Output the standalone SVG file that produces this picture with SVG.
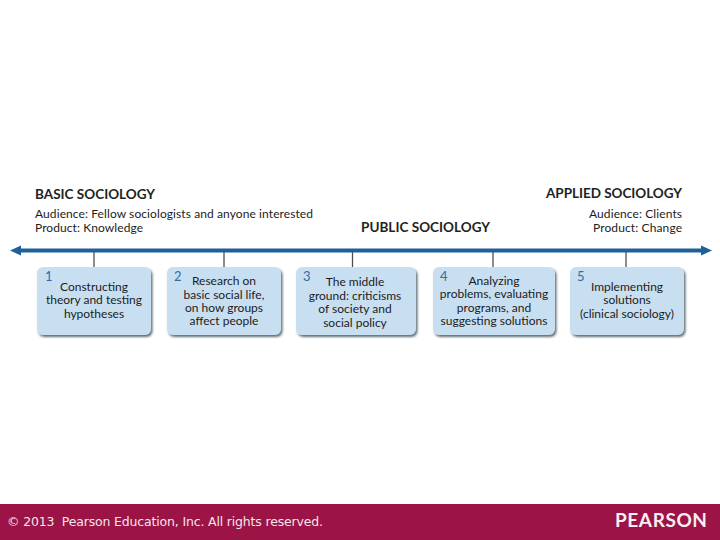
<svg xmlns="http://www.w3.org/2000/svg" width="720" height="540" viewBox="0 0 720 540">
<style>
text{font-family:"Lato","Open Sans",sans-serif;fill:#1c1c1c}
.h{font-size:13.5px;font-weight:700;fill:#222}
.s{font-size:12px}
.b{font-size:12px;text-anchor:middle}
.n{font-size:13px;fill:#2f6da3}
.box{fill:#c8dff1;filter:url(#sh)}
.tick{stroke:#4a4f55;stroke-width:1.3}
</style>
<defs>
<filter id="sh" x="-10%" y="-10%" width="125%" height="130%"><feDropShadow dx="1.5" dy="2" stdDeviation="1.3" flood-color="#4a545e" flood-opacity="0.85"/></filter>
<marker id="ah" markerUnits="userSpaceOnUse" markerWidth="12" markerHeight="12" refX="0" refY="6" orient="auto-start-reverse"><path d="M0 1L11 6L0 11Z" fill="#1f6098"/></marker>
</defs>
<rect width="720" height="540" fill="#fff"/>
<g id="connectors">
<line x1="21" y1="250.500" x2="701" y2="250.500" stroke="#1f6098" stroke-width="4" marker-start="url(#ah)" marker-end="url(#ah)"/>
<line class="tick" x1="94" y1="252" x2="94" y2="268"/>
<line class="tick" x1="224" y1="252" x2="224" y2="268"/>
<line class="tick" x1="352.500" y1="252" x2="352.500" y2="268"/>
<line class="tick" x1="493" y1="252" x2="493" y2="268"/>
<line class="tick" x1="626" y1="252" x2="626" y2="268"/>
</g>
<g id="basic"><text class="h" x="35" y="199" textLength="120">BASIC SOCIOLOGY</text>
<text class="s" x="35" y="218" textLength="278">Audience: Fellow sociologists and anyone interested</text>
<text class="s" x="35" y="232" textLength="108">Product: Knowledge</text></g>
<g id="public"><text class="h" x="361" y="232" textLength="129">PUBLIC SOCIOLOGY</text></g>
<g id="applied"><text class="h" x="546" y="198" textLength="136">APPLIED SOCIOLOGY</text>
<text class="s" x="682" y="218" text-anchor="end" textLength="93">Audience: Clients</text>
<text class="s" x="682" y="232" text-anchor="end" textLength="89">Product: Change</text></g>
<g id="node1"><rect class="box" x="37" y="267" width="114" height="68" rx="6"/><text class="n" x="45" y="281">1</text>
<text class="b" x="94" y="291">Constructing</text><text class="b" x="94" y="304">theory and testing</text><text class="b" x="94" y="318">hypotheses</text></g>
<g id="node2"><rect class="box" x="167" y="267" width="114" height="68" rx="6"/><text class="n" x="174" y="281">2</text>
<text class="b" x="224" y="285">Research on</text><text class="b" x="224" y="299">basic social life,</text><text class="b" x="224" y="312">on how groups</text><text class="b" x="224" y="325">affect people</text></g>
<g id="node3"><rect class="box" x="296" y="267" width="120" height="68" rx="6"/><text class="n" x="303" y="281">3</text>
<text class="b" x="355" y="286">The middle</text><text class="b" x="355" y="300">ground: criticisms</text><text class="b" x="355" y="313">of society and</text><text class="b" x="355" y="327">social policy</text></g>
<g id="node4"><rect class="box" x="433" y="267" width="122" height="68" rx="6"/><text class="n" x="440" y="281">4</text>
<text class="b" x="494" y="285">Analyzing</text><text class="b" x="494" y="298">problems, evaluating</text><text class="b" x="494" y="312">programs, and</text><text class="b" x="494" y="325">suggesting solutions</text></g>
<g id="node5"><rect class="box" x="570" y="267" width="114" height="68" rx="6"/><text class="n" x="577" y="281">5</text>
<text class="b" x="627" y="291">Implementing</text><text class="b" x="627" y="304">solutions</text><text class="b" x="627" y="318">(clinical sociology)</text></g>
<g id="footer"><rect y="504" width="720" height="36" fill="#9b1445"/>
<text x="7" y="526" textLength="316" style="font-family:'DejaVu Sans',sans-serif;font-size:12.500px;fill:#f3e6ec;white-space:pre">© 2013  Pearson Education, Inc. All rights reserved.</text>
<text x="615" y="527" textLength="92" style="font-family:'Lato',sans-serif;font-size:19px;font-weight:700;fill:#f8eef3">PEARSON</text></g>
</svg>
